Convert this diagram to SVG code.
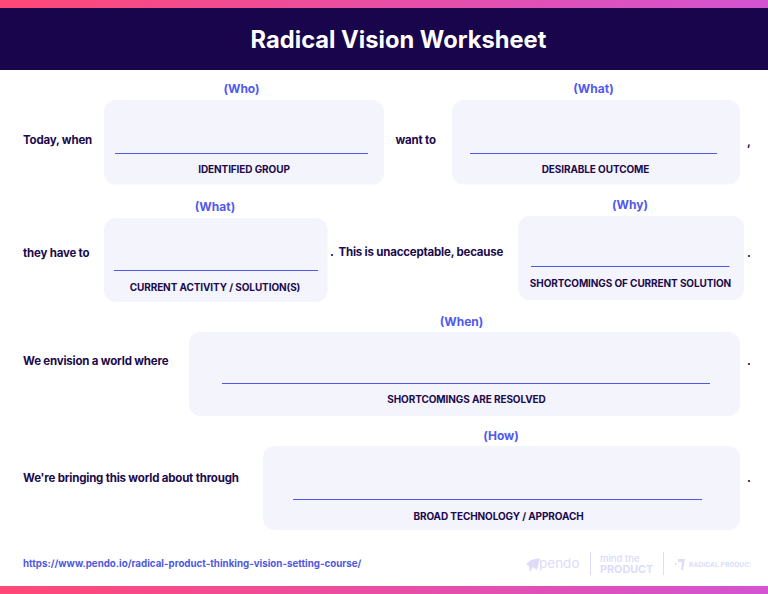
<svg xmlns="http://www.w3.org/2000/svg" width="768" height="594" viewBox="0 0 768 594">
<defs>
<linearGradient id="g" x1="0" y1="0" x2="1" y2="0"><stop offset="0" stop-color="#ff4876"/><stop offset="1" stop-color="#d254d2"/></linearGradient>
<clipPath id="cut"><rect x="670" y="550" width="81" height="30"/></clipPath>
</defs>
<style>
text{font-family:Inter,"Liberation Sans",sans-serif;font-weight:700}
.l{font-size:11.5px;fill:#1c0a4c;letter-spacing:-.2px}
.q{font-size:12px;fill:#5059f0;text-anchor:middle}
.c{font-size:10px;fill:#1c0a4c;text-anchor:middle;letter-spacing:-.1px}
.b{fill:#f3f4fc}
.r{stroke:#5059e8;stroke-width:1.2;fill:none}
.w{fill:#dcdcfa}
</style>
<rect width="768" height="594" fill="#fff"/>
<rect width="768" height="8" fill="url(#g)"/>
<rect y="8" width="768" height="62" fill="#19054c"/>
<text x="398.500" y="48" font-size="23.700" fill="#fff" text-anchor="middle" id="title">Radical Vision Worksheet</text>
<rect y="586" width="768" height="8" fill="url(#g)"/>

<g id="row1-who">
<text class="q" x="241.500" y="93">(Who)</text>
<rect class="b" x="104" y="100" width="280" height="84.500" rx="12"/>
<line class="r" x1="115" y1="153.500" x2="368" y2="153.500"/>
<text class="c" x="244" y="173">IDENTIFIED GROUP</text>
</g>
<g id="row1-what">
<text class="q" x="593.500" y="93">(What)</text>
<rect class="b" x="452" y="100" width="288" height="84.500" rx="12"/>
<line class="r" x1="470" y1="153.500" x2="717" y2="153.500"/>
<text class="c" x="595.500" y="173">DESIRABLE OUTCOME</text>
</g>
<g id="row2-what">
<text class="q" x="215" y="211">(What)</text>
<rect class="b" x="104" y="218" width="223.500" height="84" rx="12"/>
<line class="r" x1="114" y1="270.500" x2="318" y2="270.500"/>
<text class="c" x="215" y="291">CURRENT ACTIVITY / SOLUTION(S)</text>
</g>
<g id="row2-why">
<text class="q" x="630" y="209">(Why)</text>
<rect class="b" x="518" y="216" width="226" height="84" rx="12"/>
<line class="r" x1="531" y1="266.500" x2="729.500" y2="266.500"/>
<text class="c" x="630.500" y="286.500">SHORTCOMINGS OF CURRENT SOLUTION</text>
</g>
<g id="row3-when">
<text class="q" x="461.500" y="326">(When)</text>
<rect class="b" x="189" y="332" width="551" height="84" rx="12"/>
<line class="r" x1="222" y1="383.500" x2="710" y2="383.500"/>
<text class="c" x="466.500" y="403">SHORTCOMINGS ARE RESOLVED</text>
</g>
<g id="row4-how">
<text class="q" x="501" y="440">(How)</text>
<rect class="b" x="263" y="446" width="477" height="84" rx="12"/>
<line class="r" x1="293" y1="499.500" x2="702" y2="499.500"/>
<text class="c" x="498.500" y="519.500">BROAD TECHNOLOGY / APPROACH</text>
</g>
<g id="sentences">
<text class="l" x="23" y="144">Today, when</text>
<text class="l" x="395.500" y="144">want to</text>
<text class="l" x="747" y="146">,</text>
<text class="l" x="23" y="257">they have to</text>
<text class="l" x="330" y="256">.</text>
<text class="l" x="338.500" y="256">This is unacceptable, because</text>
<text class="l" x="747" y="257">.</text>
<text class="l" x="23" y="365">We envision a world where</text>
<text class="l" x="747" y="365">.</text>
<text class="l" x="23" y="482">We're bringing this world about through</text>
<text class="l" x="747" y="482">.</text>
</g>
<text x="23" y="567" font-size="9.750" fill="#5059e0" id="link">https://www.pendo.io/radical-product-thinking-vision-setting-course/</text>
<g id="logos">
<path class="w" d="M526 564l5-4 9-2-3 12-4-3-3 5-1-6z"/>
<text x="539" y="568" font-size="13.500" fill="#dcdcfa" style="font-weight:400">pendo</text>
<rect class="w" x="590" y="552" width="1" height="23"/>
<text x="600" y="561.500" font-size="9.500" fill="#dcdcfa" style="font-weight:500">mind the</text>
<text x="600" y="573" font-size="10.800" fill="#dcdcfa">PRODUCT</text>
<rect class="w" x="663" y="552" width="1" height="23"/>
<path class="w" d="M678 559h7l-2 11h-2l1-8h-4z"/>
<rect class="w" x="675" y="563" width="1.500" height="2"/>
<text x="689" y="566.500" font-size="6.500" fill="#dcdcfa" letter-spacing=".15" clip-path="url(#cut)">RADICAL PRODUCT</text>
</g>
</svg>
